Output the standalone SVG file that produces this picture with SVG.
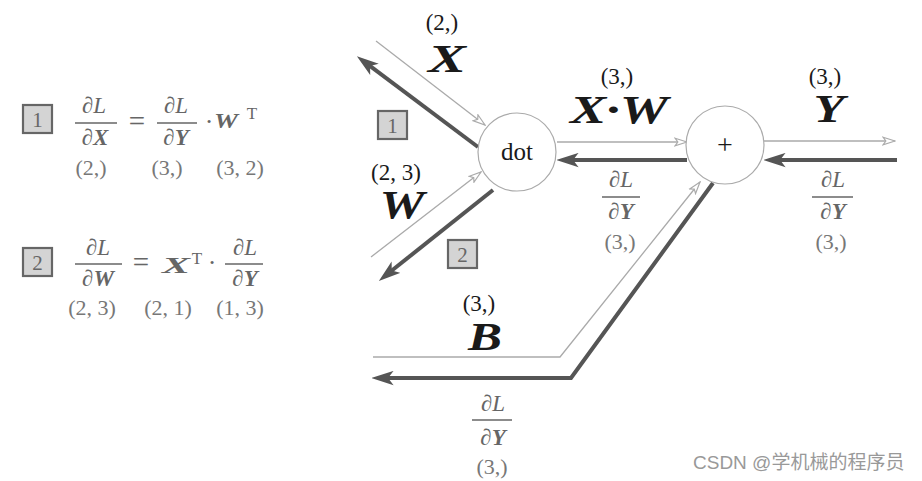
<svg xmlns="http://www.w3.org/2000/svg" width="922" height="481" viewBox="0 0 922 481">
<style>
.bg{fill:#fff}
.node{fill:#fff;stroke:#aaa;stroke-width:1.2}
.nlabel{font-family:"Liberation Serif","DejaVu Serif",serif;fill:#1a1a1a;text-anchor:middle}
.fwd{fill:none;stroke:#aaa;stroke-width:1.3;marker-end:url(#open)}
.bwd{fill:none;stroke:#555;stroke-width:4;marker-end:url(#solid)}
.sh{font-family:"Liberation Serif",serif;font-size:23px;fill:#1a1a1a;text-anchor:middle}
.var{font-family:"Liberation Serif",serif;font-size:40px;font-weight:bold;font-style:italic;fill:#1a1a1a;text-anchor:middle}
.fr{font-family:"Liberation Serif",serif;font-size:23px;fill:#666;text-anchor:middle}
.fb{font-weight:bold;font-style:italic}
.fline{stroke:#666;stroke-width:1.6}
.fsh{font-family:"Liberation Serif",serif;font-size:22px;fill:#777;text-anchor:middle}
.box{fill:#d4d4d4;stroke:#666;stroke-width:2.2}
.boxt{font-family:"Liberation Serif",serif;font-size:21px;fill:#666;text-anchor:middle}
.wm{font-family:"Liberation Sans","Noto Sans CJK SC",sans-serif;font-size:19px;fill:#999}
</style>
<defs>
<marker id="solid" markerUnits="userSpaceOnUse" markerWidth="22" markerHeight="15" viewBox="0 0 20 13" refX="6" refY="6.5" orient="auto">
<path d="M0,0 L20,6.5 L0,13 L5,6.5 z" fill="#555"/>
</marker>
<marker id="open" markerUnits="userSpaceOnUse" markerWidth="14" markerHeight="10" viewBox="-1 -1 13 9" refX="11" refY="3.5" orient="auto">
<path d="M0,0 L11,3.5 L0,7 L2.5,3.5 z" fill="#fff" stroke="#aaa" stroke-width="1.1" stroke-linejoin="miter"/>
</marker>
</defs>
<rect class="bg" x="0" y="0" width="922" height="481"/>

<g id="connectors">
<line class="fwd" x1="376" y1="41" x2="485" y2="125"/>
<line class="bwd" x1="478" y1="147" x2="369.2" y2="65.4"/>
<line class="fwd" x1="371" y1="257" x2="481" y2="172"/>
<line class="bwd" x1="493" y1="190" x2="390.9" y2="271.3"/>
<line class="fwd" x1="557" y1="142" x2="687" y2="142"/>
<line class="bwd" x1="687" y1="160" x2="572" y2="160"/>
<line class="fwd" x1="764" y1="141" x2="895" y2="141"/>
<line class="bwd" x1="897" y1="160" x2="779" y2="160"/>
<polyline class="fwd" points="373,357 560,357 700,182"/>
<polyline class="bwd" points="713,183 571,378 387,378"/>
</g>

<g id="node-dot">
<circle class="node" cx="517" cy="152" r="39"/>
<text class="nlabel" x="517" y="160" style="font-family:'Liberation Serif',serif;font-size:25px">dot</text>
</g>
<g id="node-plus">
<circle class="node" cx="725" cy="145" r="39"/>
<text class="nlabel" x="725" y="154" style="font-family:'Liberation Serif',serif;font-size:28px">+</text>
</g>

<g id="labels">
<text class="sh" x="442" y="30">(2,)</text>
<text class="var" x="447" y="72" textLength="38" lengthAdjust="spacingAndGlyphs">X</text>
<text class="sh" x="396" y="180">(2, 3)</text>
<text class="var" x="402" y="218" textLength="45" lengthAdjust="spacingAndGlyphs">W</text>
<text class="sh" x="617" y="84">(3,)</text>
<text class="var" x="619" y="123" textLength="98" lengthAdjust="spacingAndGlyphs">X·W</text>
<text class="sh" x="825" y="84">(3,)</text>
<text class="var" x="829" y="122" textLength="31" lengthAdjust="spacingAndGlyphs">Y</text>
<text class="sh" x="479" y="311">(3,)</text>
<text class="var" x="485" y="350" textLength="34" lengthAdjust="spacingAndGlyphs">B</text>

<text class="fr" x="621" y="187">∂<tspan font-style="italic">L</tspan></text>
<line class="fline" x1="602" y1="197" x2="640" y2="197"/>
<text class="fr" x="621" y="219">∂<tspan class="fb">Y</tspan></text>
<text class="fsh" x="620" y="249">(3,)</text>

<text class="fr" x="833" y="187">∂<tspan font-style="italic">L</tspan></text>
<line class="fline" x1="812" y1="197" x2="853" y2="197"/>
<text class="fr" x="833" y="219">∂<tspan class="fb">Y</tspan></text>
<text class="fsh" x="831" y="249">(3,)</text>

<text class="fr" x="493" y="411">∂<tspan font-style="italic">L</tspan></text>
<line class="fline" x1="472" y1="420" x2="512" y2="420"/>
<text class="fr" x="493" y="445">∂<tspan class="fb">Y</tspan></text>
<text class="fsh" x="492" y="474">(3,)</text>

<g id="box1-diagram"><rect class="box" x="378" y="111" width="29" height="28"/><text class="boxt" x="392.5" y="133">1</text></g>
<g id="box2-diagram"><rect class="box" x="448" y="240" width="29" height="28"/><text class="boxt" x="462.5" y="262">2</text></g>
</g>

<g id="formula1">
<rect class="box" x="23" y="105" width="29" height="28"/>
<text class="boxt" x="37.5" y="127">1</text>
<text class="fr" x="94" y="113">∂<tspan font-style="italic">L</tspan></text>
<line class="fline" x1="75" y1="123" x2="117" y2="123"/>
<text class="fr" x="95" y="145">∂<tspan class="fb">X</tspan></text>
<text class="fr" x="137" y="131" style="font-size:29px">=</text>
<text class="fr" x="176" y="113">∂<tspan font-style="italic">L</tspan></text>
<line class="fline" x1="157" y1="123" x2="197" y2="123"/>
<text class="fr" x="176" y="145">∂<tspan class="fb">Y</tspan></text>
<text class="fr" x="209" y="130" style="font-size:26px">·</text>
<text class="fr fb" x="226" y="128" style="font-size:22px" textLength="24" lengthAdjust="spacingAndGlyphs">W</text>
<text class="fr" x="252" y="119" style="font-size:17px">T</text>
<text class="fsh" x="91" y="175">(2,)</text>
<text class="fsh" x="167" y="175">(3,)</text>
<text class="fsh" x="240" y="175">(3, 2)</text>
</g>

<g id="formula2">
<rect class="box" x="23" y="248" width="29" height="28"/>
<text class="boxt" x="37.5" y="270">2</text>
<text class="fr" x="98" y="255">∂<tspan font-style="italic">L</tspan></text>
<line class="fline" x1="75" y1="264" x2="122" y2="264"/>
<text class="fr" x="98" y="286">∂<tspan class="fb">W</tspan></text>
<text class="fr" x="141" y="272" style="font-size:29px">=</text>
<text class="fr fb" x="176" y="273" style="font-size:23px" textLength="28" lengthAdjust="spacingAndGlyphs">X</text>
<text class="fr" x="197" y="264" style="font-size:17px">T</text>
<text class="fr" x="212" y="271" style="font-size:26px">·</text>
<text class="fr" x="245" y="255">∂<tspan font-style="italic">L</tspan></text>
<line class="fline" x1="225" y1="264" x2="263" y2="264"/>
<text class="fr" x="245" y="286">∂<tspan class="fb">Y</tspan></text>
<text class="fsh" x="92" y="315">(2, 3)</text>
<text class="fsh" x="168" y="315">(2, 1)</text>
<text class="fsh" x="240" y="315">(1, 3)</text>
</g>

<text class="wm" x="693" y="469">CSDN @学机械的程序员</text>
</svg>
